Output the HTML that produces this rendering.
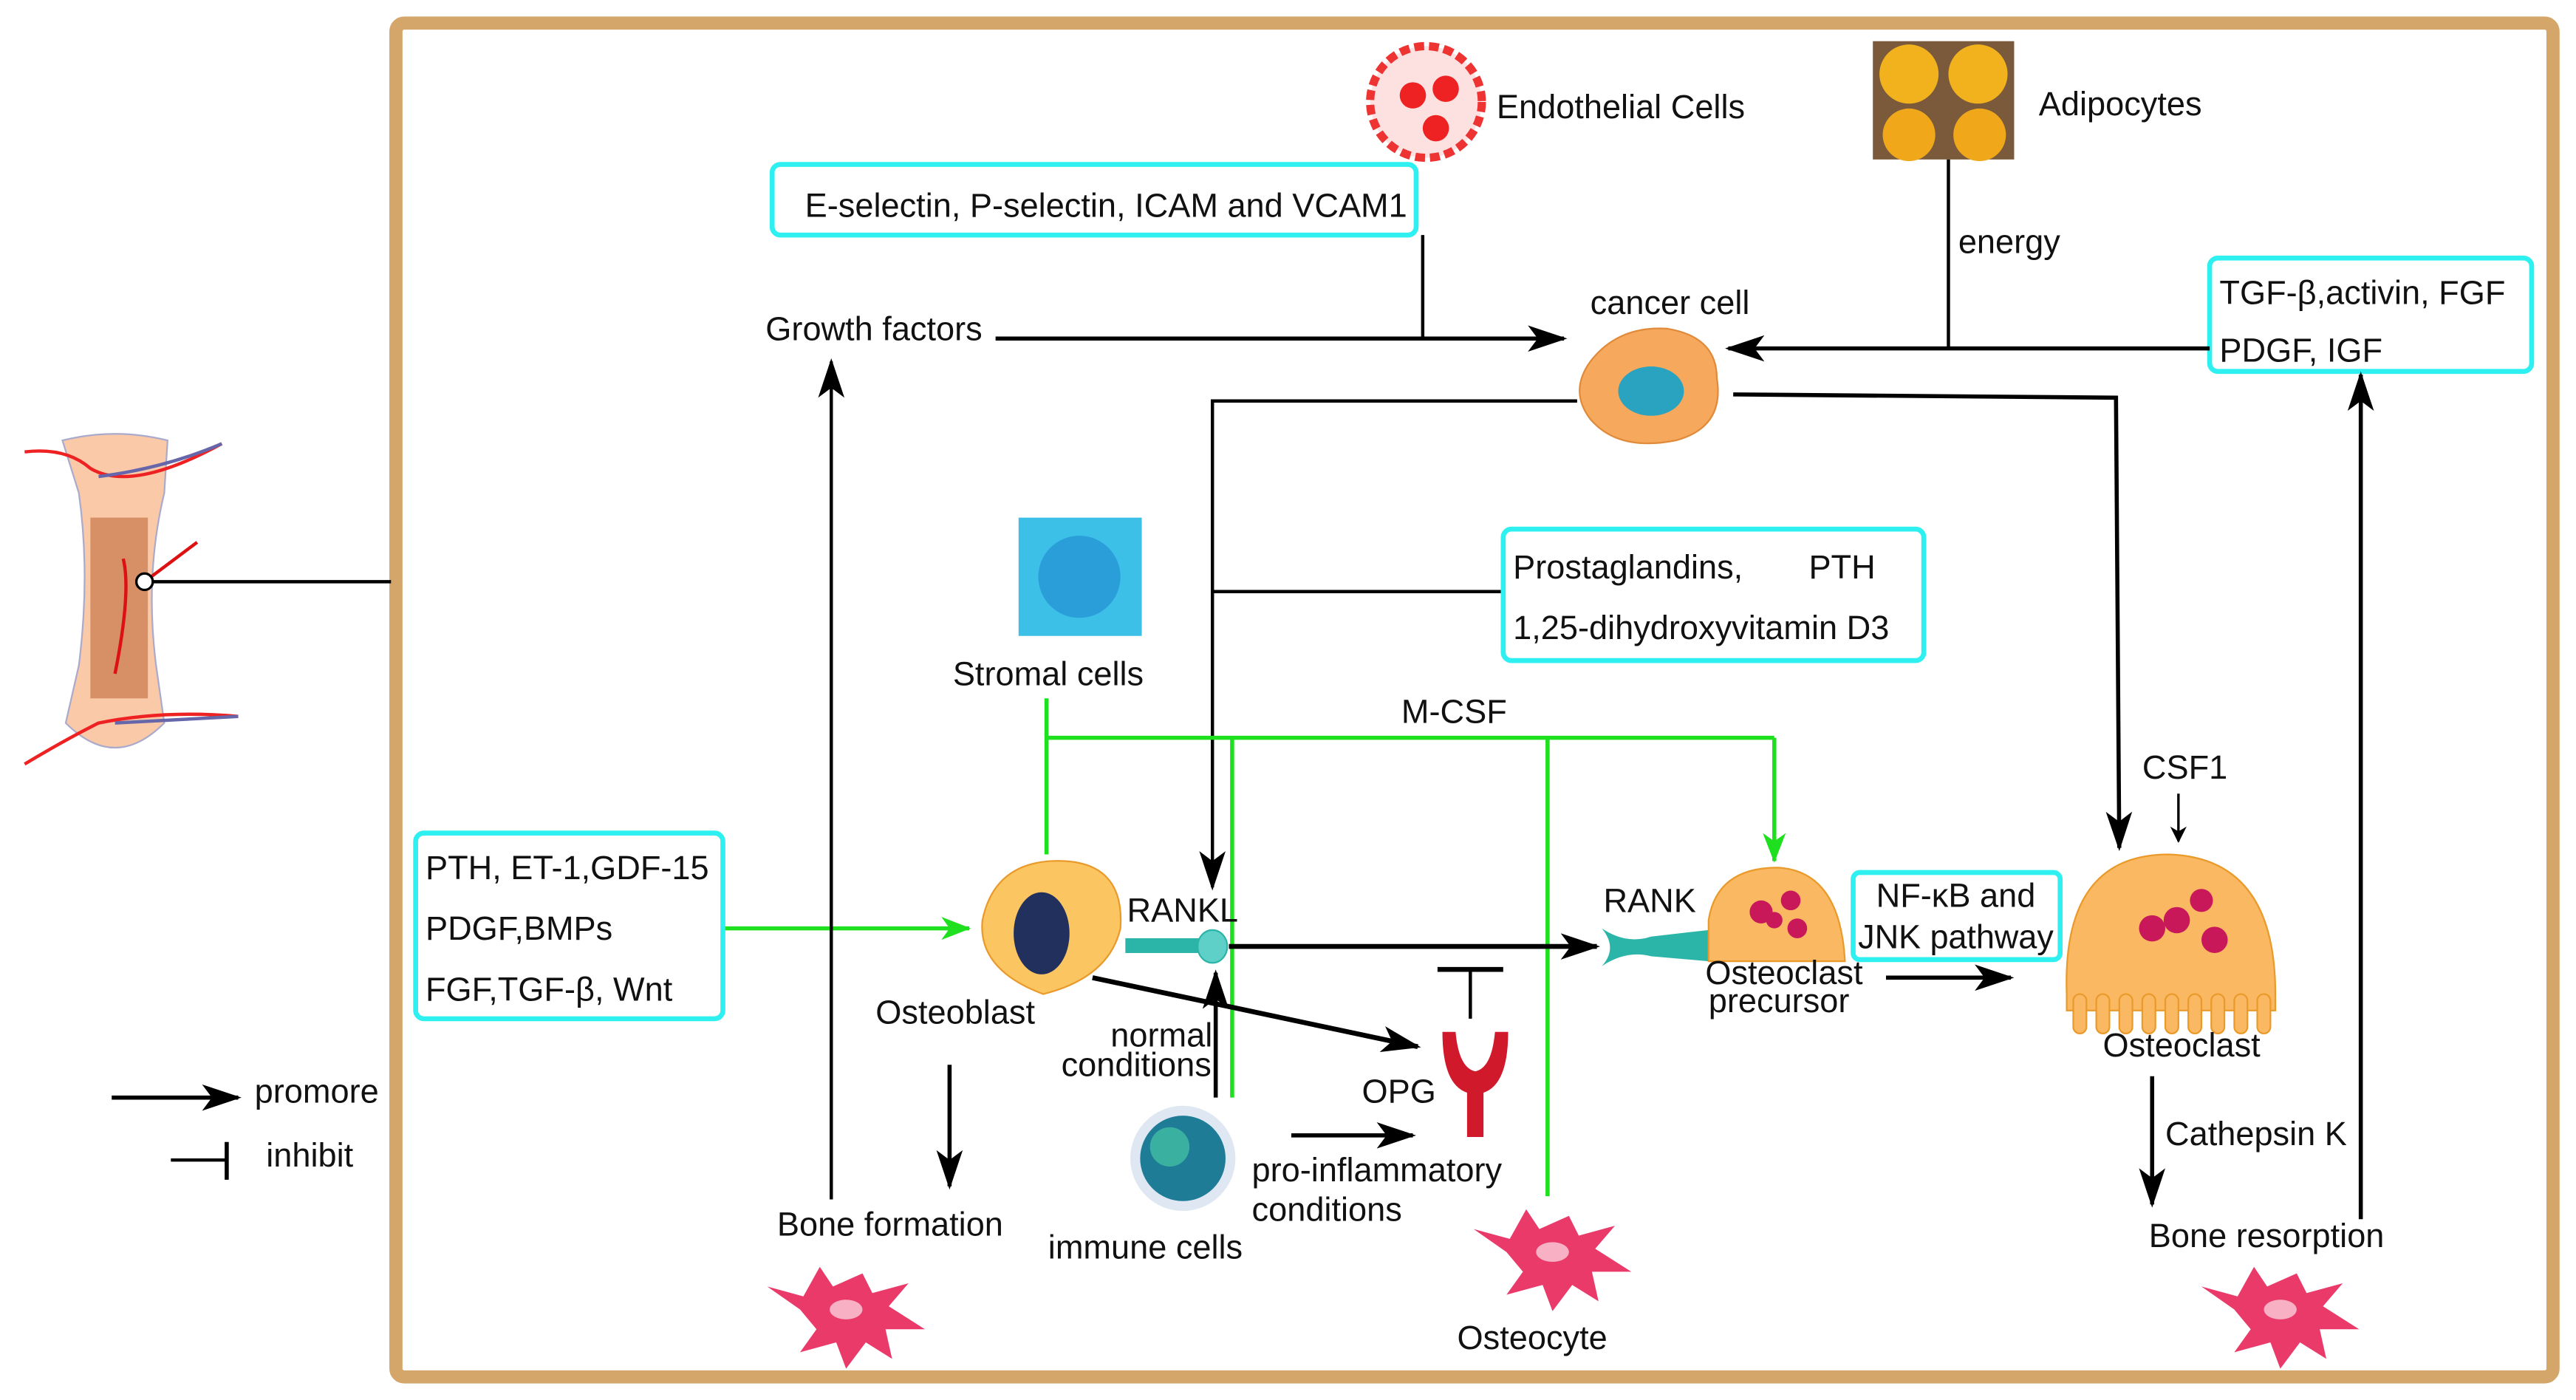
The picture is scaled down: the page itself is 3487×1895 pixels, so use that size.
<!DOCTYPE html>
<html><head><meta charset="utf-8"><style>
html,body{margin:0;padding:0;background:#fff;}
svg{display:block;}
text{font-family:"Liberation Sans",sans-serif;font-size:20.3px;fill:#111;}
</style></head><body>
<svg width="3487" height="1895" viewBox="0 0 1568 852" xmlns="http://www.w3.org/2000/svg">
<defs>
<marker id="a" markerWidth="10" markerHeight="10" refX="9" refY="5" orient="auto" markerUnits="userSpaceOnUse"><path d="M0,0 L10,5 L0,10 L3,5 Z" fill="#000"/></marker>
<marker id="ab" markerWidth="24" markerHeight="16" refX="22" refY="8" orient="auto" markerUnits="userSpaceOnUse"><path d="M0,0 L24,8 L0,16 L6,8 Z" fill="#000"/></marker>
<marker id="g" markerWidth="18" markerHeight="14" refX="17" refY="7" orient="auto" markerUnits="userSpaceOnUse"><path d="M0,0 L18,7 L0,14 L5,7 Z" fill="#1ee01e"/></marker>
</defs>
<rect x="241" y="14" width="1313" height="824" rx="5" fill="none" stroke="#D4A66A" stroke-width="8"/>

<!-- bone -->
<g>
<path d="M38,268 Q70,260 102,268 L100,300 Q88,350 95,405 L100,440 Q70,470 40,440 L48,405 Q55,350 48,300 Z" fill="#f9c9a8" stroke="#aac" stroke-width="1"/>
<rect x="55" y="315" width="35" height="110" fill="#c9784a" opacity=".7"/>
<path d="M15,275 Q40,272 55,285 Q80,300 135,270" stroke="#e22" stroke-width="2" fill="none"/>
<path d="M60,290 Q100,285 135,270" stroke="#66a" stroke-width="2" fill="none"/>
<path d="M15,465 Q40,450 60,440 Q100,432 145,436" stroke="#e22" stroke-width="2" fill="none"/>
<path d="M70,440 L145,436" stroke="#66a" stroke-width="2" fill="none"/>
<path d="M88,354 Q100,345 120,330 M75,340 Q80,360 70,410" stroke="#d11" stroke-width="2" fill="none"/>
<circle cx="88" cy="354" r="5" fill="#fff" stroke="#000" stroke-width="1.5"/>
<line x1="93" y1="354" x2="238" y2="354" stroke="#000" stroke-width="2"/>
</g>

<!-- endothelial -->
<circle cx="868" cy="62" r="34" fill="#fde0e0" stroke="#e33" stroke-width="5" stroke-dasharray="6 3"/>
<circle cx="860" cy="58" r="8" fill="#e22"/><circle cx="880" cy="54" r="8" fill="#e22"/><circle cx="874" cy="78" r="8" fill="#e22"/>
<text x="911" y="72">Endothelial Cells</text>
<!-- adipocytes -->
<rect x="1140" y="25" width="86" height="72" fill="#7a5a3a"/>
<circle cx="1162" cy="45" r="18" fill="#f2b21d"/><circle cx="1204" cy="45" r="18" fill="#f2b21d"/><circle cx="1162" cy="82" r="16" fill="#f0a81a"/><circle cx="1205" cy="82" r="16" fill="#f0a81a"/>
<text x="1241" y="70">Adipocytes</text>

<rect x="470" y="100" width="392" height="43" rx="5" fill="#fff" stroke="#2ef0f0" stroke-width="3"/>
<text x="490" y="132">E-selectin, P-selectin, ICAM and VCAM1</text>
<line x1="866" y1="143" x2="866" y2="206" stroke="#000" stroke-width="2"/>
<text x="466" y="207">Growth factors</text>
<line x1="606" y1="206" x2="952" y2="206" stroke="#000" stroke-width="2.5" marker-end="url(#ab)"/>

<!-- cancer cell -->
<text x="968" y="191">cancer cell</text>
<path d="M968,220 Q985,198 1015,200 Q1045,205 1045,230 Q1050,260 1020,268 Q985,275 968,255 Q955,238 968,220 Z" fill="#f6a85c" stroke="#e08a3a"/>
<ellipse cx="1005" cy="238" rx="20" ry="15" fill="#2aa3c0"/>
<line x1="1186" y1="97" x2="1186" y2="212" stroke="#000" stroke-width="2"/>
<text x="1192" y="154">energy</text>
<rect x="1345" y="157" width="196" height="69" rx="5" fill="#fff" stroke="#2ef0f0" stroke-width="3"/>
<text x="1351" y="185">TGF-β,activin, FGF</text>
<text x="1351" y="220">PDGF, IGF</text>
<line x1="1345" y1="212" x2="1052" y2="212" stroke="#000" stroke-width="2.5" marker-end="url(#ab)"/>
<line x1="1437" y1="742" x2="1437" y2="228" stroke="#000" stroke-width="2.5" marker-end="url(#ab)"/>
<polyline points="1055,240 1288,242 1290,516" fill="none" stroke="#000" stroke-width="2.5" marker-end="url(#ab)"/>
<polyline points="960,244 738,244 738,540" fill="none" stroke="#000" stroke-width="2" marker-end="url(#ab)"/>
<line x1="738" y1="360" x2="915" y2="360" stroke="#000" stroke-width="2"/>
<rect x="915" y="322" width="256" height="80" rx="5" fill="#fff" stroke="#2ef0f0" stroke-width="3"/>
<text x="921" y="352">Prostaglandins,</text>
<text x="1101" y="352">PTH</text>
<text x="921" y="389">1,25-dihydroxyvitamin D3</text>

<!-- stromal -->
<rect x="620" y="315" width="75" height="72" fill="#3cc0e8"/>
<circle cx="657" cy="351" r="25" fill="#2a9ed8"/>
<text x="580" y="417">Stromal cells</text>
<g stroke="#1ee01e" stroke-width="2.5" fill="none">
<line x1="637" y1="425" x2="637" y2="520"/>
<line x1="637" y1="449" x2="1080" y2="449"/>
<line x1="1080" y1="449" x2="1080" y2="524" marker-end="url(#g)"/>
<line x1="750" y1="449" x2="750" y2="668"/>
<line x1="942" y1="449" x2="942" y2="728"/>
<line x1="440" y1="565" x2="590" y2="565" marker-end="url(#g)"/>
</g>
<text x="853" y="440">M-CSF</text>
<rect x="253" y="507" width="187" height="113" rx="5" fill="#fff" stroke="#2ef0f0" stroke-width="3"/>
<text x="259" y="535">PTH, ET-1,GDF-15</text>
<text x="259" y="572">PDGF,BMPs</text>
<text x="259" y="609">FGF,TGF-β, Wnt</text>

<!-- osteoblast -->
<path d="M640,524 Q685,522 682,565 Q675,595 635,605 Q595,590 598,560 Q605,526 640,524 Z" fill="#fbc561" stroke="#e99a2a"/>
<ellipse cx="634" cy="568" rx="17" ry="25" fill="#22305e"/>
<text x="533" y="623">Osteoblast</text>
<rect x="685" y="571" width="50" height="9" fill="#2bb5a8"/>
<ellipse cx="738" cy="576" rx="9" ry="10" fill="#5fd0c8" stroke="#2bb5a8"/>
<text x="686" y="561">RANKL</text>
<line x1="748" y1="576" x2="972" y2="576" stroke="#000" stroke-width="3" marker-end="url(#ab)"/>
<line x1="895" y1="590" x2="895" y2="620" stroke="#000" stroke-width="2"/>
<line x1="875" y1="590" x2="915" y2="590" stroke="#000" stroke-width="3"/>
<!-- RANK -->
<path d="M975,565 Q990,575 1005,570 L1040,566 L1040,585 L1005,582 Q990,578 975,588 Q985,577 975,565 Z" fill="#2bb5a8"/>
<text x="976" y="555">RANK</text>
<path d="M1040,585 L1040,560 Q1045,528 1082,528 Q1120,530 1123,585 Z" fill="#fbb862" stroke="#e99a2a"/>
<circle cx="1072" cy="555" r="7" fill="#c8185a"/><circle cx="1090" cy="548" r="6" fill="#c8185a"/><circle cx="1094" cy="565" r="6" fill="#c8185a"/><circle cx="1080" cy="560" r="5" fill="#c8185a"/>
<text x="1038" y="599">Osteoclast</text>
<text x="1040" y="616">precursor</text>
<rect x="1128" y="531" width="126" height="53" rx="4" fill="#fff" stroke="#2ef0f0" stroke-width="3"/>
<text x="1142" y="552">NF-κB and</text>
<text x="1131" y="577" textLength="119">JNK pathway</text>
<line x1="1148" y1="595" x2="1224" y2="595" stroke="#000" stroke-width="2.5" marker-end="url(#ab)"/>
<!-- osteoclast -->
<path d="M1258,605 Q1255,520 1320,520 Q1385,522 1385,605 L1385,615 L1258,615 Z" fill="#fbb862" stroke="#e99a2a"/>
<g fill="#fbb862" stroke="#e99a2a" stroke-width="1">
<rect x="1262" y="605" width="8" height="24" rx="4"/><rect x="1276" y="605" width="8" height="24" rx="4"/><rect x="1290" y="605" width="8" height="24" rx="4"/><rect x="1304" y="605" width="8" height="24" rx="4"/><rect x="1318" y="605" width="8" height="24" rx="4"/><rect x="1332" y="605" width="8" height="24" rx="4"/><rect x="1346" y="605" width="8" height="24" rx="4"/><rect x="1360" y="605" width="8" height="24" rx="4"/><rect x="1374" y="605" width="8" height="24" rx="4"/>
</g>
<circle cx="1310" cy="565" r="8" fill="#c8185a"/><circle cx="1325" cy="560" r="8" fill="#c8185a"/><circle cx="1340" cy="548" r="7" fill="#c8185a"/><circle cx="1348" cy="572" r="8" fill="#c8185a"/>
<text x="1280" y="643">Osteoclast</text>
<text x="1304" y="474">CSF1</text>
<line x1="1326" y1="483" x2="1326" y2="512" stroke="#000" stroke-width="1.5" marker-end="url(#a)"/>
<line x1="1310" y1="655" x2="1310" y2="733" stroke="#000" stroke-width="2.5" marker-end="url(#ab)"/>
<text x="1318" y="697">Cathepsin K</text>
<text x="1308" y="759">Bone resorption</text>

<!-- OPG -->
<line x1="665" y1="595" x2="863" y2="637" stroke="#000" stroke-width="3" marker-end="url(#ab)"/>
<path d="M878,628 L886,628 Q888,650 898,652 Q908,650 910,628 L918,628 Q918,660 903,665 L903,692 L893,692 L893,665 Q878,660 878,628 Z" fill="#d0192a"/>
<text x="829" y="671">OPG</text>
<line x1="578" y1="648" x2="578" y2="722" stroke="#000" stroke-width="2.5" marker-end="url(#ab)"/>
<text x="473" y="752">Bone formation</text>
<line x1="506" y1="730" x2="506" y2="220" stroke="#000" stroke-width="2" marker-end="url(#ab)"/>

<!-- immune -->
<circle cx="720" cy="705" r="32" fill="#dfe8f2"/>
<circle cx="720" cy="705" r="26" fill="#1e7c96"/>
<circle cx="712" cy="698" r="12" fill="#3ab0a0"/>
<text x="638" y="766">immune cells</text>
<line x1="740" y1="668" x2="740" y2="592" stroke="#000" stroke-width="2.5" marker-end="url(#ab)"/>
<text x="676" y="637">normal</text>
<text x="646" y="655">conditions</text>
<line x1="786" y1="691" x2="860" y2="691" stroke="#000" stroke-width="2.5" marker-end="url(#ab)"/>
<text x="762" y="719">pro-inflammatory</text>
<text x="762" y="743">conditions</text>

<!-- osteocytes -->
<g fill="#e93a6a">
<path d="M515,797 m-28,0 l-20,-14 l22,6 l10,-18 l8,12 l18,-8 l6,12 l22,-6 l-12,14 l22,14 l-24,0 l4,18 l-16,-10 l-12,16 l-6,-16 l-22,6 l10,-14 Z"/>
<path d="M945,762 m-28,0 l-20,-14 l22,6 l10,-18 l8,12 l18,-8 l6,12 l22,-6 l-12,14 l22,14 l-24,0 l4,18 l-16,-10 l-12,16 l-6,-16 l-22,6 l10,-14 Z"/>
<path d="M1388,797 m-28,0 l-20,-14 l22,6 l10,-18 l8,12 l18,-8 l6,12 l22,-6 l-12,14 l22,14 l-24,0 l4,18 l-16,-10 l-12,16 l-6,-16 l-22,6 l10,-14 Z"/>
</g>
<ellipse cx="515" cy="797" rx="10" ry="6" fill="#f7b0c4"/><ellipse cx="945" cy="762" rx="10" ry="6" fill="#f7b0c4"/><ellipse cx="1388" cy="797" rx="10" ry="6" fill="#f7b0c4"/>
<text x="887" y="821">Osteocyte</text>

<!-- legend -->
<line x1="68" y1="668" x2="145" y2="668" stroke="#000" stroke-width="2.5" marker-end="url(#ab)"/>
<text x="155" y="671">promore</text>
<line x1="104" y1="706" x2="138" y2="706" stroke="#000" stroke-width="2"/>
<line x1="138" y1="695" x2="138" y2="718" stroke="#000" stroke-width="2.5"/>
<text x="162" y="710">inhibit</text>
</svg>
</body></html>
